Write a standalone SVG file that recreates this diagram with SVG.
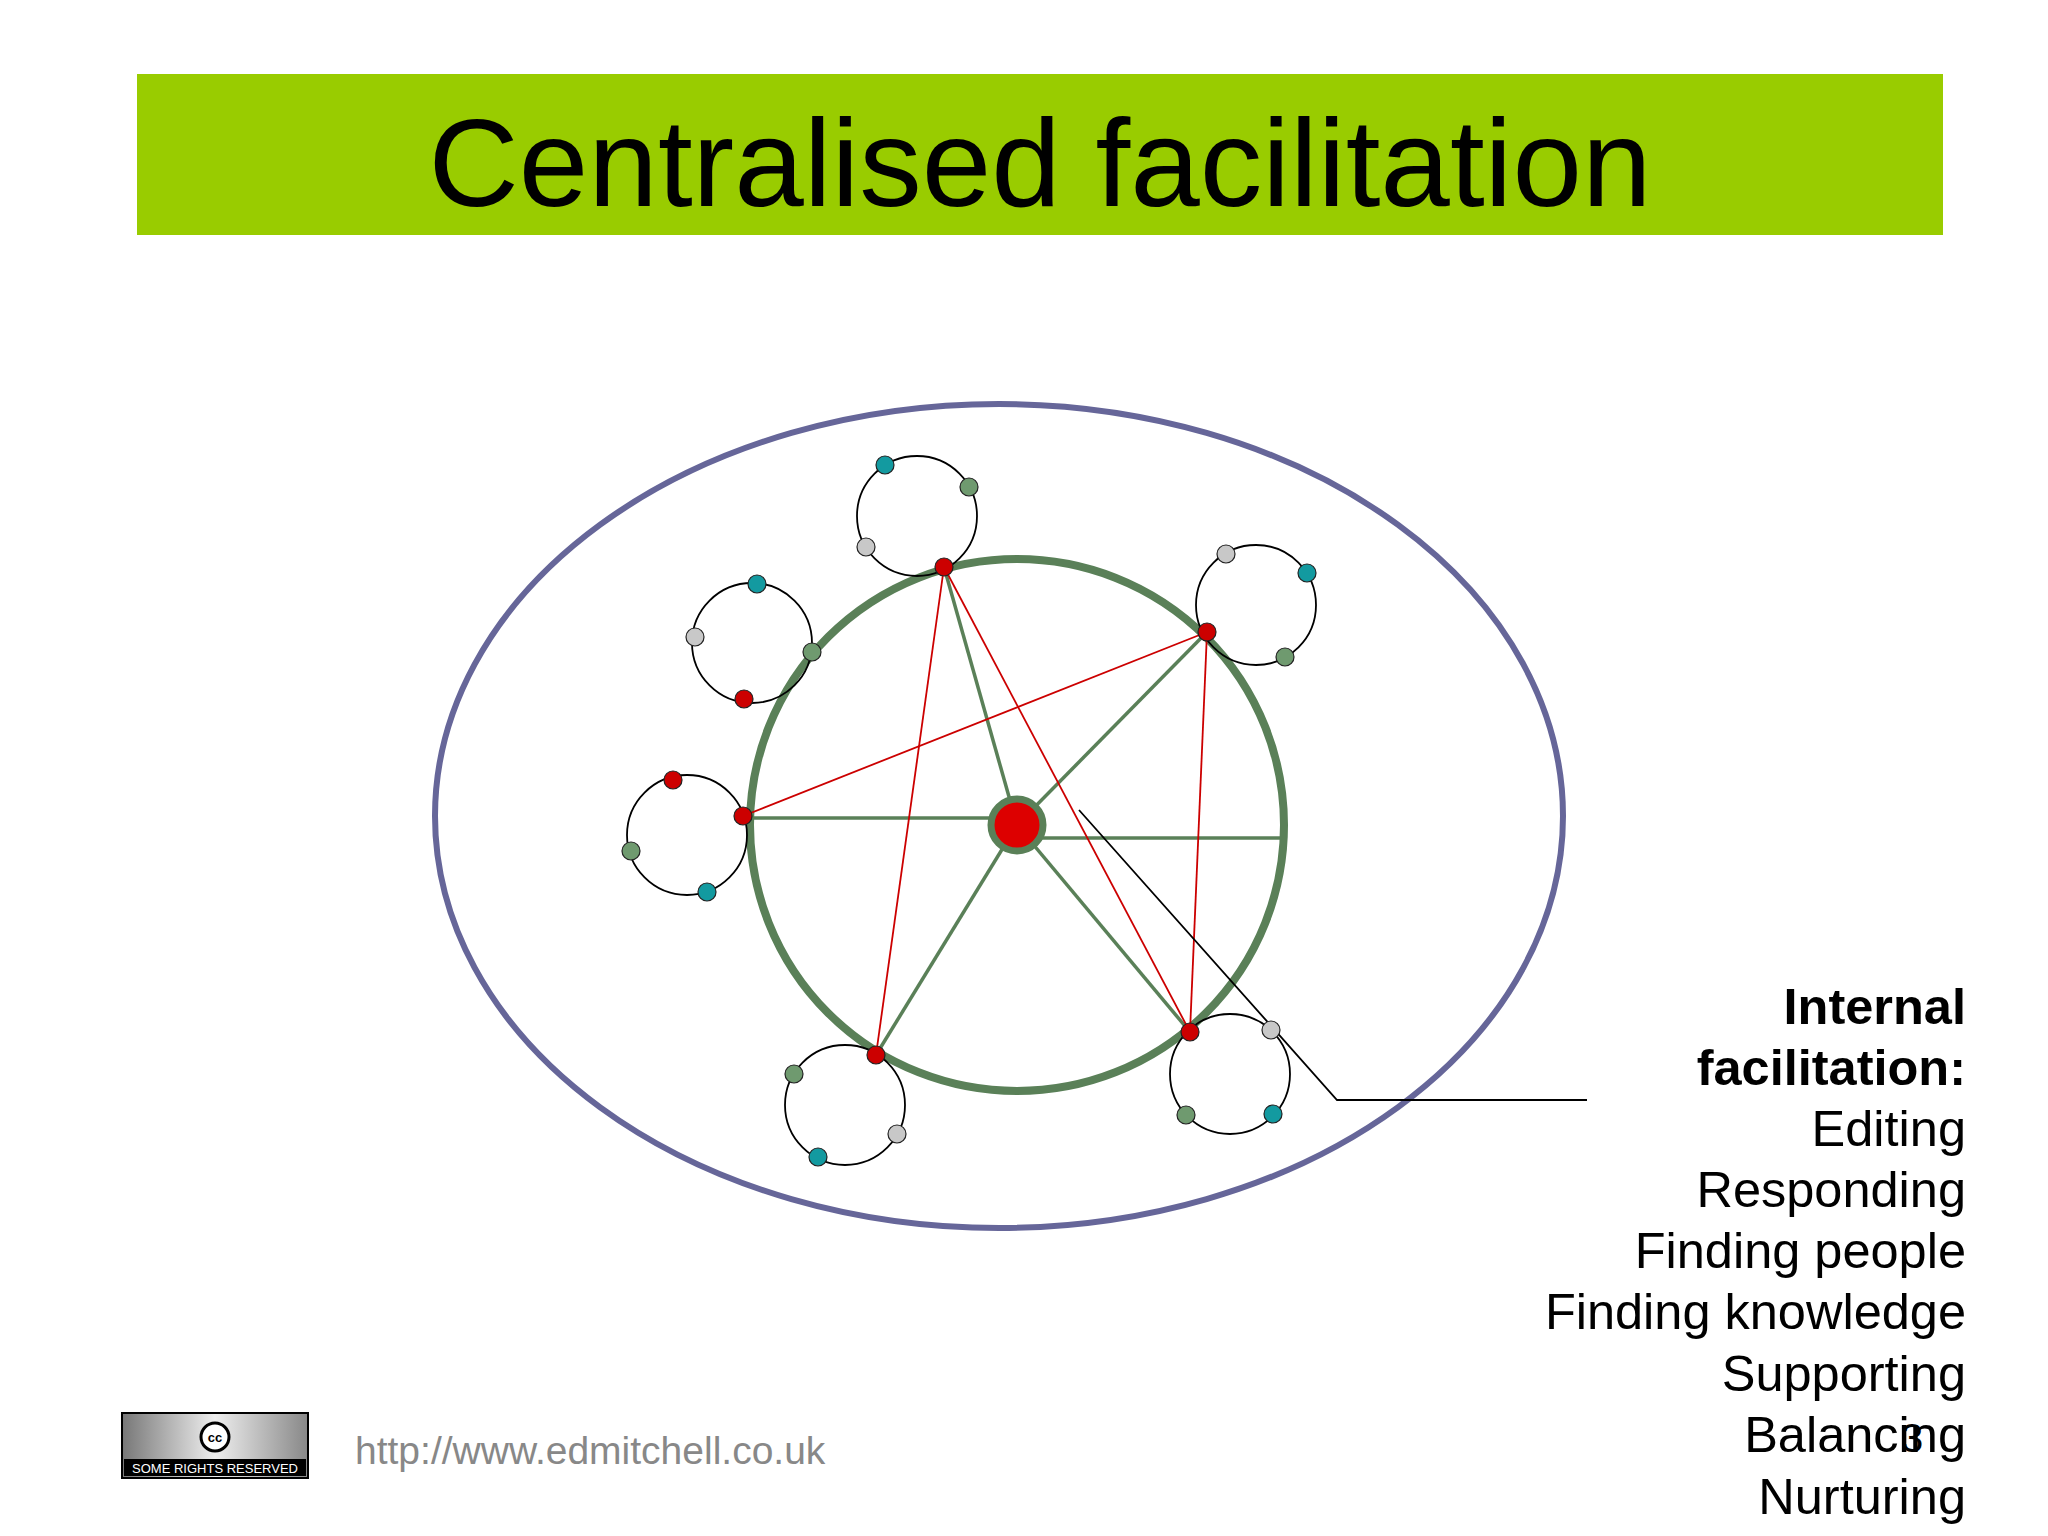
<svg xmlns="http://www.w3.org/2000/svg" width="2048" height="1536" viewBox="0 0 2048 1536">
<style>
.sc{fill:none;stroke:#000;stroke-width:1.8}
.d{stroke:#222;stroke-width:1.2}
.r{fill:#cc0000}.t{fill:#139aa0}.g{fill:#6f9a6f}.y{fill:#c8c8c8}
.sp{stroke:#5a8058;stroke-width:3.5;fill:none}
.rl{stroke:#cc0000;stroke-width:1.8;fill:none}
.tx{font-family:"Liberation Sans",Arial,sans-serif;font-size:50.5px;text-anchor:end}
</style>
<defs><linearGradient id="cc" x1="0" x2="1"><stop offset="0" stop-color="#777"/><stop offset="0.5" stop-color="#eee"/><stop offset="1" stop-color="#888"/></linearGradient></defs>
<rect width="2048" height="1536" fill="#fff"/>
<g id="title"><rect x="137" y="74" width="1806" height="161" fill="#99cc00"/>
<text x="1040" y="206" font-family="Liberation Sans,Arial,sans-serif" font-size="125" text-anchor="middle">Centralised facilitation</text></g>
<g id="outer"><ellipse cx="999" cy="816" rx="564" ry="412" fill="none" stroke="#666699" stroke-width="6"/></g>
<g id="ring"><ellipse cx="1017" cy="825" rx="267" ry="266" fill="none" stroke="#5a8058" stroke-width="8"/></g>
<g id="connectors">
<line class="sp" x1="1017" y1="825" x2="944" y2="567"/>
<line class="sp" x1="1017" y1="825" x2="1207" y2="632"/>
<line class="sp" x1="1017" y1="818" x2="743" y2="818"/>
<line class="sp" x1="1017" y1="825" x2="876" y2="1055"/>
<line class="sp" x1="1017" y1="825" x2="1190" y2="1032"/>
<line class="sp" x1="1040" y1="838" x2="1282" y2="838"/>
<line class="rl" x1="944" y1="567" x2="876" y2="1055"/>
<line class="rl" x1="944" y1="567" x2="1190" y2="1032"/>
<line class="rl" x1="743" y1="816" x2="1207" y2="632"/>
<line class="rl" x1="1207" y1="632" x2="1190" y2="1032"/>
<polyline points="1079,810 1337,1100 1587,1100" fill="none" stroke="#000" stroke-width="1.8"/>
</g>
<g id="center"><circle cx="1017" cy="825" r="26" fill="#dd0000" stroke="#5a8058" stroke-width="7"/></g>
<g id="cluster1"><circle class="sc" cx="917" cy="516" r="60"/><circle class="d t" cx="885" cy="465" r="9"/><circle class="d g" cx="969" cy="487" r="9"/><circle class="d y" cx="866" cy="547" r="9"/><circle class="d r" cx="944" cy="567" r="9"/></g>
<g id="cluster2"><circle class="sc" cx="752" cy="643" r="60"/><circle class="d t" cx="757" cy="584" r="9"/><circle class="d y" cx="695" cy="637" r="9"/><circle class="d g" cx="812" cy="652" r="9"/><circle class="d r" cx="744" cy="699" r="9"/></g>
<g id="cluster3"><circle class="sc" cx="1256" cy="605" r="60"/><circle class="d y" cx="1226" cy="554" r="9"/><circle class="d t" cx="1307" cy="573" r="9"/><circle class="d g" cx="1285" cy="657" r="9"/><circle class="d r" cx="1207" cy="632" r="9"/></g>
<g id="cluster4"><circle class="sc" cx="687" cy="835" r="60"/><circle class="d r" cx="673" cy="780" r="9"/><circle class="d g" cx="631" cy="851" r="9"/><circle class="d t" cx="707" cy="892" r="9"/><circle class="d r" cx="743" cy="816" r="9"/></g>
<g id="cluster5"><circle class="sc" cx="845" cy="1105" r="60"/><circle class="d g" cx="794" cy="1074" r="9"/><circle class="d y" cx="897" cy="1134" r="9"/><circle class="d t" cx="818" cy="1157" r="9"/><circle class="d r" cx="876" cy="1055" r="9"/></g>
<g id="cluster6"><circle class="sc" cx="1230" cy="1074" r="60"/><circle class="d y" cx="1271" cy="1030" r="9"/><circle class="d g" cx="1186" cy="1115" r="9"/><circle class="d t" cx="1273" cy="1114" r="9"/><circle class="d r" cx="1190" cy="1032" r="9"/></g>
<g id="label">
<text class="tx" x="1966" y="1024" font-weight="bold">Internal</text>
<text class="tx" x="1966" y="1085" font-weight="bold">facilitation:</text>
<text class="tx" x="1966" y="1146">Editing</text>
<text class="tx" x="1966" y="1207">Responding</text>
<text class="tx" x="1966" y="1268">Finding people</text>
<text class="tx" x="1966" y="1329">Finding knowledge</text>
<text class="tx" x="1966" y="1391">Supporting</text>
<text class="tx" x="1966" y="1452">Balancing</text>
<text class="tx" x="1966" y="1514">Nurturing</text>
<text x="1912" y="1452" font-family="Liberation Sans,Arial,sans-serif" font-size="40" text-anchor="middle">3</text>
</g>
<g id="footer">
<rect x="122" y="1413" width="186" height="65" fill="url(#cc)" stroke="#000" stroke-width="2"/>
<rect x="124" y="1459" width="182" height="17" fill="#000"/>
<circle cx="215" cy="1437" r="14" fill="#fff" stroke="#000" stroke-width="3"/>
<text x="215" y="1442" font-family="Liberation Sans,Arial,sans-serif" font-size="13" font-weight="bold" text-anchor="middle">cc</text>
<text x="215" y="1473" font-family="Liberation Sans,Arial,sans-serif" font-size="13" fill="#fff" text-anchor="middle">SOME RIGHTS RESERVED</text>
<text x="355" y="1464" font-family="Liberation Sans,Arial,sans-serif" font-size="39" fill="#888">http://www.edmitchell.co.uk</text>
</g>
</svg>
